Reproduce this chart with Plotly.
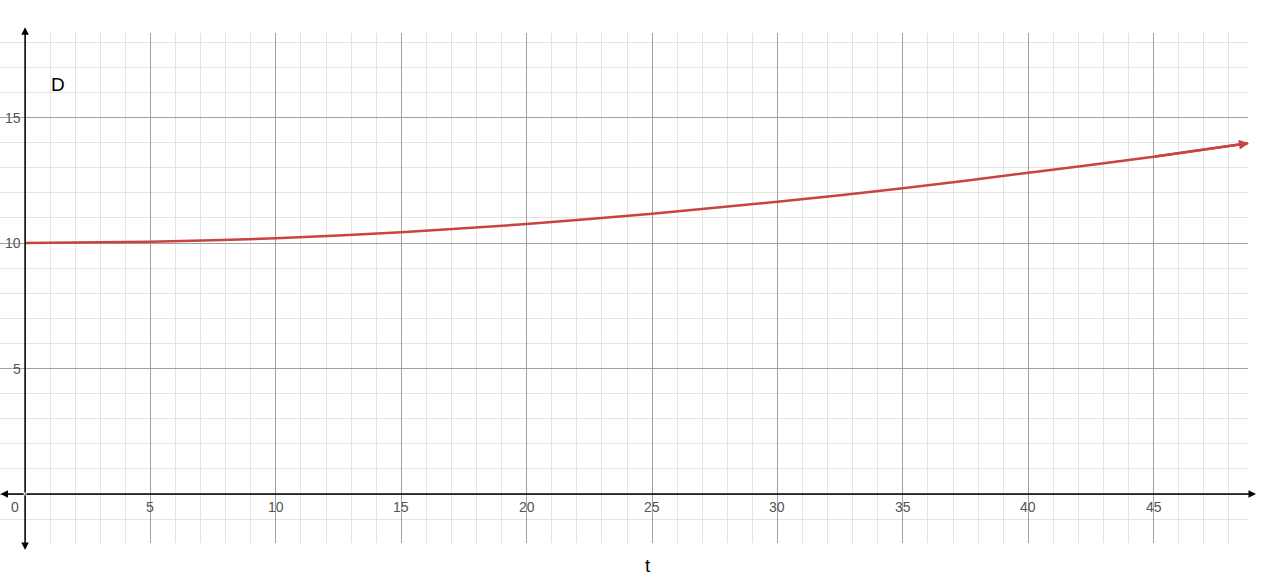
import plotly.graph_objects as go

# Data
t_vals = [0, 5, 10, 15, 20, 25, 30, 35, 40, 45, 48.8]
D_vals = [10.0, 10.05, 10.19, 10.43, 10.76, 11.17, 11.65, 12.18, 12.80, 13.44, 13.98]

x_ticks = [0, 5, 10, 15, 20, 25, 30, 35, 40, 45]
y_ticks = [5, 10, 15]

X_RANGE = [-1.0, 48.76]
Y_RANGE = [-1.95, 18.37]

RED = "#c74440"
TICK_COLOR = "#555555"
FONT = "Arial, Liberation Sans, sans-serif"

fig = go.Figure()
fig.add_trace(go.Scatter(
    x=t_vals, y=D_vals, mode="lines",
    line=dict(color=RED, width=2.5, shape="spline", smoothing=0.6),
    hoverinfo="skip", showlegend=False,
))

annotations = []
# x tick labels
for v in x_ticks:
    annotations.append(dict(
        x=v, y=0, xref="x", yref="y", text=str(v), showarrow=False,
        font=dict(family=FONT, size=14, color=TICK_COLOR),
        yshift=-13, xshift=(-10 if v == 0 else 0),
    ))
# y tick labels
for v in y_ticks:
    annotations.append(dict(
        x=0, y=v, xref="x", yref="y", text=str(v), showarrow=False,
        xanchor="right", xshift=-2,
        font=dict(family=FONT, size=14, color=TICK_COLOR),
    ))

# axis arrows
def arrow(x, y, ax, ay, color="black", width=1.5, size=1.0):
    return dict(x=x, y=y, ax=ax, ay=ay, xref="x", yref="y", axref="x", ayref="y",
                text="", showarrow=True, arrowhead=2, arrowsize=size,
                arrowwidth=width, arrowcolor=color)

annotations.append(arrow(49.08, 0, 0, 0))
annotations.append(arrow(-0.98, 0, 0, 0))
annotations.append(arrow(0, 18.6, 0, 0))
annotations.append(arrow(0, -2.23, 0, 0))
# curve end arrow
annotations.append(arrow(t_vals[-1], D_vals[-1], t_vals[-2], D_vals[-2], color=RED, width=2.5, size=0.8))

# axis titles
annotations.append(dict(x=1.3, y=16.3, xref="x", yref="y", text="D", showarrow=False,
                        font=dict(family=FONT, size=19, color="black")))
annotations.append(dict(x=24.85, y=0, xref="x", yref="paper", yanchor="middle", yshift=-22,
                        text="t", showarrow=False,
                        font=dict(family=FONT, size=19, color="black")))

axis_common = dict(
    showgrid=True, gridcolor="#a0a0a0", gridwidth=1,
    minor=dict(dtick=1, showgrid=True, gridcolor="#e4e4e4", gridwidth=1),
    zeroline=False, showticklabels=False, ticks="", showline=False, fixedrange=True,
)

fig.update_layout(
    width=1266, height=579,
    margin=dict(l=0, r=18, t=33, b=36),
    paper_bgcolor="white", plot_bgcolor="white",
    xaxis=dict(range=X_RANGE, dtick=5, tick0=0, **axis_common),
    yaxis=dict(range=Y_RANGE, dtick=5, tick0=0, **axis_common),
    annotations=annotations,
    showlegend=False,
)

fig.write_html(
    "out.html",
    config={"displayModeBar": False},
    post_script="document.body.style.margin='0';document.body.style.overflow='hidden';",
)
